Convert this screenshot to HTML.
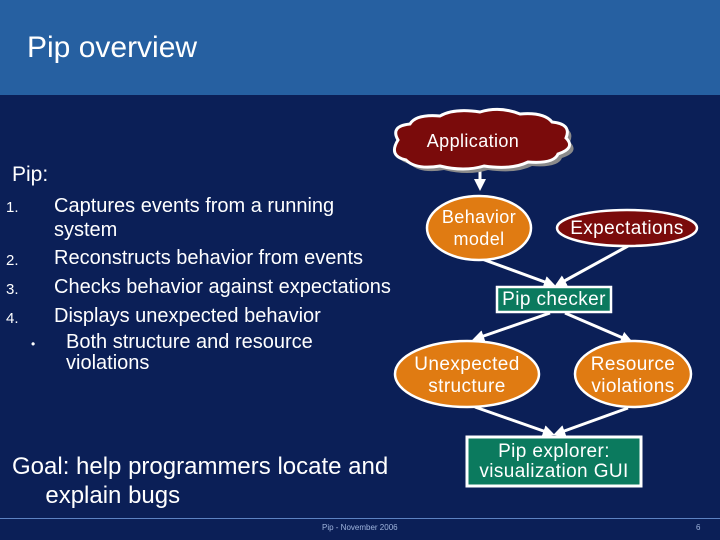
<!DOCTYPE html>
<html><head><style>
body{margin:0;width:720px;height:540px;overflow:hidden;background:#0b1f57;font-family:"Liberation Sans",sans-serif;color:#fff;position:relative}
.hd{position:absolute;left:0;top:0;width:720px;height:95px;background:#2660a1}
.t{position:absolute;white-space:nowrap}
</style></head><body>
<div class="hd"></div>
<div class="t" style="left:27px;top:31px;font-size:30px">Pip overview</div>
<div class="t" style="left:12px;top:163px;font-size:21px">Pip:</div>
<div class="t" style="left:6px;top:199px;font-size:15px">1.</div>
<div class="t" style="left:54px;top:194px;font-size:20px;line-height:24px">Captures events from a running<br>system</div>
<div class="t" style="left:6px;top:252px;font-size:15px">2.</div>
<div class="t" style="left:54px;top:247px;font-size:20px">Reconstructs behavior from events</div>
<div class="t" style="left:6px;top:281px;font-size:15px">3.</div>
<div class="t" style="left:54px;top:276px;font-size:20px">Checks behavior against expectations</div>
<div class="t" style="left:6px;top:310px;font-size:15px">4.</div>
<div class="t" style="left:54px;top:305px;font-size:20px">Displays unexpected behavior</div>
<div class="t" style="left:31px;top:337px;font-size:12px">•</div>
<div class="t" style="left:66px;top:332px;font-size:20px;line-height:21px">Both structure and resource<br>violations</div>
<div class="t" style="left:12px;top:452px;font-size:24px;line-height:29px">Goal: help programmers locate and<br>&nbsp;&nbsp;&nbsp;&nbsp;&nbsp;explain bugs</div>
<div style="position:absolute;left:0;top:518px;width:720px;height:1px;background:#5d82c2"></div>
<div class="t" style="left:322px;top:523px;font-size:8px;color:#9fb4dd">Pip - November 2006</div>
<div class="t" style="left:696px;top:523px;font-size:8px;color:#9fb4dd">6</div>
<svg width="720" height="540" style="position:absolute;left:0;top:0" font-family="Liberation Sans, sans-serif" letter-spacing="0.4">
<defs><marker id="a" markerWidth="4" markerHeight="4" refX="3" refY="2" orient="auto"><path d="M0,0L4,2L0,4z" fill="#fff"/></marker></defs>
<g stroke="#fff" stroke-width="3" marker-end="url(#a)">
<line x1="480" y1="163" x2="480" y2="188"/>
<line x1="482" y1="259" x2="553" y2="285"/>
<line x1="628" y1="246" x2="557" y2="285"/>
<line x1="550" y1="313" x2="475" y2="339"/>
<line x1="565" y1="313" x2="630" y2="341"/>
<line x1="475" y1="407" x2="552" y2="434"/>
<line x1="628" y1="408" x2="556" y2="434"/>
</g>
<g transform="translate(4,4)" fill="#8a8a8a"><path d="M398,140 q-8,-14 12,-16 q6,-10 30,-8 q14,-8 40,-4 q20,-6 40,2 q24,-2 32,8 q20,2 14,16 q10,10 -8,16 q-4,10 -30,8 q-16,8 -44,4 q-20,6 -44,0 q-24,4 -34,-6 q-18,-4 -8,-20z"/></g>
<path d="M398,140 q-8,-14 12,-16 q6,-10 30,-8 q14,-8 40,-4 q20,-6 40,2 q24,-2 32,8 q20,2 14,16 q10,10 -8,16 q-4,10 -30,8 q-16,8 -44,4 q-20,6 -44,0 q-24,4 -34,-6 q-18,-4 -8,-20z" fill="#7a0b0b" stroke="#fff" stroke-width="3"/>
<text x="473" y="147" font-size="18" fill="#fff" text-anchor="middle">Application</text>
<ellipse cx="479" cy="228" rx="52" ry="32" fill="#e07b12" stroke="#fff" stroke-width="2.5"/>
<text x="479" y="223" font-size="18" fill="#fff" text-anchor="middle">Behavior</text>
<text x="479" y="245" font-size="18" fill="#fff" text-anchor="middle">model</text>
<ellipse cx="627" cy="228" rx="70" ry="18" fill="#7a0b0b" stroke="#fff" stroke-width="2.5"/>
<text x="627" y="234" font-size="19" fill="#fff" text-anchor="middle">Expectations</text>
<rect x="497" y="287" width="114" height="25" fill="#0b7a5e" stroke="#fff" stroke-width="2.5"/>
<text x="554" y="305" font-size="19" fill="#fff" text-anchor="middle">Pip checker</text>
<ellipse cx="467" cy="374" rx="72" ry="33" fill="#e07b12" stroke="#fff" stroke-width="2.5"/>
<text x="467" y="370" font-size="19" fill="#fff" text-anchor="middle">Unexpected</text>
<text x="467" y="392" font-size="19" fill="#fff" text-anchor="middle">structure</text>
<ellipse cx="633" cy="374" rx="58" ry="33" fill="#e07b12" stroke="#fff" stroke-width="2.5"/>
<text x="633" y="370" font-size="19" fill="#fff" text-anchor="middle">Resource</text>
<text x="633" y="392" font-size="19" fill="#fff" text-anchor="middle">violations</text>
<rect x="467" y="437" width="174" height="49" fill="#0b7a5e" stroke="#fff" stroke-width="3"/>
<text x="554" y="457" font-size="19" fill="#fff" text-anchor="middle">Pip explorer:</text>
<text x="554" y="477" font-size="19" fill="#fff" text-anchor="middle">visualization GUI</text>
</svg>
</body></html>
